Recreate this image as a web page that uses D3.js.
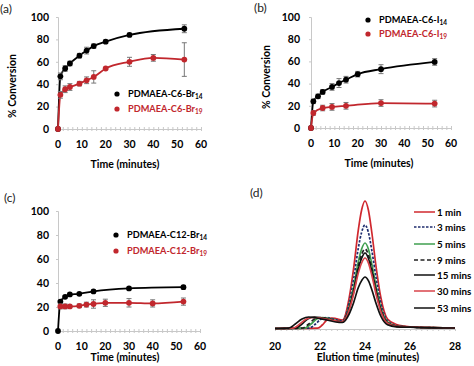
<!DOCTYPE html>
<html><head><meta charset="utf-8">
<script src="https://cdn.jsdelivr.net/npm/d3@7"></script>
<style>
html,body{margin:0;padding:0;background:#fff;}
svg{display:block;font-family:Lato,"Open Sans",sans-serif;}
</style></head>
<body>
<svg id="c" width="474" height="366"></svg>
<script>
// ---------- Data ----------
const timeTicks = [0,10,20,30,40,50,60];
const convTicks = [0,20,40,60,80,100];

// (a)
const aTimeBlack = [0,1,3,5,9,12,15,20,30,53];
const aBlack     = [0,47,54,58.5,65.5,70,74,78,84,89.5];
const aBlackErr  = [0,3,2.5,2,2,3,2,1.5,1.5,3.5];
const aTimeRed   = [0,1,3,5,9,12,15,20,30,40,53];
const aRed       = [0,30.5,35.5,37.5,40.5,43.5,46.5,54,60,63.5,62];
const aRedErr    = [0,3,3,3,2,3,5.5,1,4,3,15];
// (b)
const bTimeBlack = [0,1,3,5,9,12,15,20,30,53];
const bBlack     = [0,24,28.5,32.5,37,40.5,43.5,48.5,53,59.5];
const bBlackErr  = [0,2,2,2,3,4,3,2.5,4,3];
const bTimeRed   = [0,1,5,9,15,30,53];
const bRed       = [0,13.5,18,19,20,22.5,22];
const bRedErr    = [0,2,2.5,3,3,3,3];
// (c)
const cTimeBlack = [0,1,3,5,9,15,30,53];
const cBlack     = [0,24.5,28.5,30.5,31,33,35.5,36.5];
const cBlackErr  = [0,1,1,1,1,1,1,1.5];
const cTimeRed   = [1,3,5,9,12,15,20,30,40,53];
const cRed       = [20.5,20.5,20.5,21,22,22.5,23.5,23.5,23,24.5];
const cRedErr    = [2,2,1,1.5,2,3.5,3,3.5,3,3];

// (d) GPC traces [elution time, detector response]
const elutionTicks = [20,22,24,26,28];
const gpcLabels = ["1 min","3 mins","5 mins","9 mins","15 mins","30 mins","53 mins"];
const gpc1 = [[20,0.5],[21,0.5],[21.9,0.8],[22.1,4],[22.3,9],[22.5,11],[22.7,10.5],[23,9],[23.3,31.6],[23.5,61.6],[23.7,98.6],[23.85,119],[24,128],[24.15,119],[24.3,97],[24.5,61],[24.7,32],[25,10],[25.4,4.5],[26,2.2],[27,1.3],[28,1]];
const gpc3 = [[20,0.5],[21.5,0.8],[21.8,5],[22,9],[22.3,11.5],[22.6,10],[23,8],[23.3,26.5],[23.5,50.6],[23.7,80.5],[23.85,96.7],[24,104],[24.15,96.7],[24.3,79],[24.5,50],[24.7,26],[25,8.3],[25.4,3.5],[26,2],[27,1.3],[28,1]];
const gpc5 = [[20,0.5],[21.3,0.8],[21.6,5],[21.85,10],[22.1,11.5],[22.4,10.5],[22.7,8.5],[23,7],[23.3,22.6],[23.5,42.4],[23.7,67],[23.85,80],[24,86],[24.15,80],[24.3,65.4],[24.5,41.3],[24.7,21.5],[25,7],[25.4,3],[26,2],[27,1.3],[28,1]];
const gpc9 = [[20,0.5],[21.2,0.8],[21.5,5],[21.75,10],[22,11.5],[22.3,10.5],[22.7,8.5],[23,7],[23.3,21.3],[23.5,39.6],[23.7,62.4],[23.85,74.4],[24,80],[24.15,74.4],[24.3,60.8],[24.5,38.4],[24.7,20],[25,6.4],[25.4,2.8],[26,2],[27,1.3],[28,1]];
const gpc15 = [[20,0.5],[20.9,0.8],[21.2,5],[21.45,10],[21.75,12],[22.1,11],[22.5,9],[23,7],[23.3,20.4],[23.5,37.8],[23.7,59.4],[23.85,70.7],[24,76],[24.15,70.7],[24.3,57.8],[24.5,36.5],[24.7,19],[25,6],[25.4,2.7],[26,2],[27,1.3],[28,1]];
const gpc30 = [[20,0.5],[20.8,0.8],[21.1,5],[21.4,10],[21.7,11.5],[22,11],[22.5,9],[23,7],[23.3,19.3],[23.5,35.5],[23.7,55.6],[23.85,66],[24,71],[24.15,66],[24.3,54],[24.5,34],[24.7,17.8],[25,5.7],[25.4,2.6],[26,2],[27,1.3],[28,1]];
const gpc53 = [[20,0.5],[20.6,0.8],[20.9,5],[21.2,10],[21.5,12],[21.85,11],[22.3,9],[22.7,7],[23,6.5],[23.3,15.2],[23.5,26.8],[23.7,41.3],[23.85,48.4],[24,52],[24.15,48.4],[24.3,39.5],[24.5,25],[24.7,13],[25,4.2],[25.4,2.2],[26,1.8],[27,1.2],[28,1]];

// ---------- Drawing ----------
const svg = d3.select("#c");
const RED = "#c1272d", BLACK = "#000", TXT = "#000", AX = "#c8c8c8";

function zip(t, v, e) { return t.map((d,i)=>({t:d, v:v[i], e:e?e[i]:0})); }

function kinetic(cfg) {
  const x = d3.scaleLinear().domain([0,60]).range([cfg.x0, cfg.x1]);
  const y = d3.scaleLinear().domain([0,100]).range([cfg.y0, cfg.y1]);
  const g = svg.append("g");
  const xa = d3.axisBottom(x).tickValues(d3.range(0,61,2)).tickSize(2).tickFormat("");
  g.append("g").attr("transform",`translate(0,${cfg.y0})`).call(xa)
    .call(s=>{s.selectAll("path,line").attr("stroke",AX);});
  g.append("g").attr("transform",`translate(0,${cfg.y0-2})`).call(d3.axisBottom(x).tickValues(d3.range(0,61,2)).tickSize(2).tickFormat(""))
    .call(s=>{s.select("path").remove(); s.selectAll("line").attr("stroke",AX);});
  g.selectAll(".xl").data(timeTicks).join("text")
    .attr("x",d=>x(d)).attr("y",cfg.y0+19).attr("text-anchor","middle")
    .attr("font-size",10.5).attr("font-weight",700).attr("fill",TXT).text(d=>d);
  const ya = d3.axisLeft(y).tickValues(convTicks).tickSize(2).tickFormat("");
  g.append("g").attr("transform",`translate(${cfg.x0},0)`).call(ya)
    .call(s=>{s.selectAll("path,line").attr("stroke",AX);});
  g.selectAll(".yl").data(convTicks).join("text")
    .attr("x",cfg.x0-cfg.ylGap).attr("y",d=>y(d)+3.7).attr("text-anchor","end")
    .attr("font-size",10.5).attr("font-weight",700).attr("fill",TXT).text(d=>d);
  g.append("text").attr("x",cfg.xtx).attr("y",cfg.xty).attr("text-anchor","middle")
    .attr("font-size",10.5).attr("font-weight",700).attr("fill",TXT).text("Time (minutes)");
  if (cfg.ytx) {
    g.append("text").attr("transform",`translate(${cfg.ytx},${cfg.yty}) rotate(-90)`)
      .attr("text-anchor","middle").attr("font-size",10.5).attr("font-weight",700).attr("fill",TXT).text("% Conversion");
  }
  g.append("text").attr("x",cfg.px).attr("y",cfg.py).attr("font-size",12).attr("fill","#222").text(cfg.panel);

  const line = d3.line().x(d=>x(d.t)).y(d=>y(d.v)).curve(d3.curveMonotoneX);
  cfg.series.forEach(s=>{
    const sg = g.append("g");
    sg.append("path").datum(s.data).attr("d",line).attr("fill","none").attr("stroke",s.color).attr("stroke-width",1.8);
    const eb = s.data.filter(d=>d.e>0);
    sg.selectAll(".eb").data(eb).join("line")
      .attr("x1",d=>x(d.t)).attr("x2",d=>x(d.t)).attr("y1",d=>y(d.v-d.e)).attr("y2",d=>y(d.v+d.e))
      .attr("stroke","#777").attr("stroke-width",1);
    sg.selectAll(".c1").data(eb).join("line")
      .attr("x1",d=>x(d.t)-2.5).attr("x2",d=>x(d.t)+2.5).attr("y1",d=>y(d.v+d.e)).attr("y2",d=>y(d.v+d.e))
      .attr("stroke","#777").attr("stroke-width",1);
    sg.selectAll(".c2").data(eb).join("line")
      .attr("x1",d=>x(d.t)-2.5).attr("x2",d=>x(d.t)+2.5).attr("y1",d=>y(d.v-d.e)).attr("y2",d=>y(d.v-d.e))
      .attr("stroke","#777").attr("stroke-width",1);
    sg.selectAll("circle").data(s.data).join("circle")
      .attr("cx",d=>x(d.t)).attr("cy",d=>y(d.v)).attr("r",2.9).attr("fill",s.color);
  });
  cfg.series.forEach((s,i)=>{
    const ly = cfg.ly + i*cfg.lgap;
    g.append("circle").attr("cx",cfg.lx).attr("cy",ly).attr("r",2.6).attr("fill",s.color);
    const t = g.append("text").attr("x",cfg.lx+11).attr("y",ly+3.2).attr("font-size",9.2).attr("font-weight",700).attr("fill",s.color);
    t.append("tspan").text(s.name);
    t.append("tspan").attr("font-size",6.5).attr("dy",2).text(s.sub);
  });
}

kinetic({x0:58,x1:201,y0:129,y1:17,ylGap:9,xtx:125,xty:168,ytx:16,yty:86,px:0,py:13,panel:"(a)",
  lx:117,ly:94,lgap:15,
  series:[{data:zip(aTimeBlack,aBlack,aBlackErr),color:BLACK,name:"PDMAEA-C6-Br",sub:"14"},
          {data:zip(aTimeRed,aRed,aRedErr),color:RED,name:"PDMAEA-C6-Br",sub:"19"}]});
kinetic({x0:311,x1:451,y0:128,y1:17,ylGap:11,xtx:379,xty:167,ytx:270,yty:77,px:254,py:12,panel:"(b)",
  lx:368,ly:20,lgap:14,
  series:[{data:zip(bTimeBlack,bBlack,bBlackErr),color:BLACK,name:"PDMAEA-C6-I",sub:"14"},
          {data:zip(bTimeRed,bRed,bRedErr),color:RED,name:"PDMAEA-C6-I",sub:"19"}]});
kinetic({x0:58,x1:200,y0:331,y1:211,ylGap:9,xtx:125,xty:361,ytx:null,px:4,py:202,panel:"(c)",
  lx:116,ly:235,lgap:16,
  series:[{data:zip(cTimeBlack,cBlack,cBlackErr),color:BLACK,name:"PDMAEA-C12-Br",sub:"14"},
          {data:zip(cTimeRed,cRed,cRedErr),color:RED,name:"PDMAEA-C12-Br",sub:"19"}]});

// (d)
(function(){
  const x = d3.scaleLinear().domain([20,28]).range([275,455]);
  const y = d3.scaleLinear().domain([0,130]).range([329,199]);
  const g = svg.append("g");
  g.append("g").attr("transform","translate(0,329)")
    .call(d3.axisBottom(x).tickValues(d3.range(20,28.01,0.25)).tickSize(2).tickFormat(""))
    .call(s=>{s.selectAll("path,line").attr("stroke",AX);});
  g.selectAll(".xl").data(elutionTicks).join("text")
    .attr("x",d=>x(d)).attr("y",350).attr("text-anchor","middle")
    .attr("font-size",10.5).attr("font-weight",700).attr("fill",TXT).text(d=>d);
  g.append("text").attr("x",368).attr("y",361).attr("text-anchor","middle")
    .attr("font-size",10.5).attr("font-weight",700).attr("fill",TXT).text("Elution time (minutes)");
  g.append("text").attr("x",250).attr("y",197).attr("font-size",12).attr("fill","#222").text("(d)");
  const traces = [
    {d:gpc1, c:"#d0282e", dash:null},
    {d:gpc3, c:"#1f2d6e", dash:"2.5,1.5"},
    {d:gpc5, c:"#3f9f4f", dash:null},
    {d:gpc9, c:"#222", dash:"4,2.5"},
    {d:gpc15, c:"#111", dash:null},
    {d:gpc30, c:"#d9434a", dash:null},
    {d:gpc53, c:"#111", dash:null}
  ];
  const line = d3.line().x(d=>x(d[0])).y(d=>y(d[1])).curve(d3.curveMonotoneX);
  traces.forEach(tr=>{
    g.append("path").datum(tr.d).attr("d",line).attr("fill","none").attr("stroke",tr.c)
      .attr("stroke-width",1.7).attr("stroke-dasharray",tr.dash);
  });
  const ly = [212,227,244,260,275,291,308];
  traces.forEach((tr,i)=>{
    g.append("line").attr("x1",414).attr("x2",435).attr("y1",ly[i]).attr("y2",ly[i])
      .attr("stroke",tr.c).attr("stroke-width",1.5).attr("stroke-dasharray",tr.dash);
    g.append("text").attr("x",437).attr("y",ly[i]+3.5).attr("font-size",9.8).attr("font-weight",700)
      .attr("fill",TXT).text(gpcLabels[i]);
  });
})();
</script>
</body></html>
